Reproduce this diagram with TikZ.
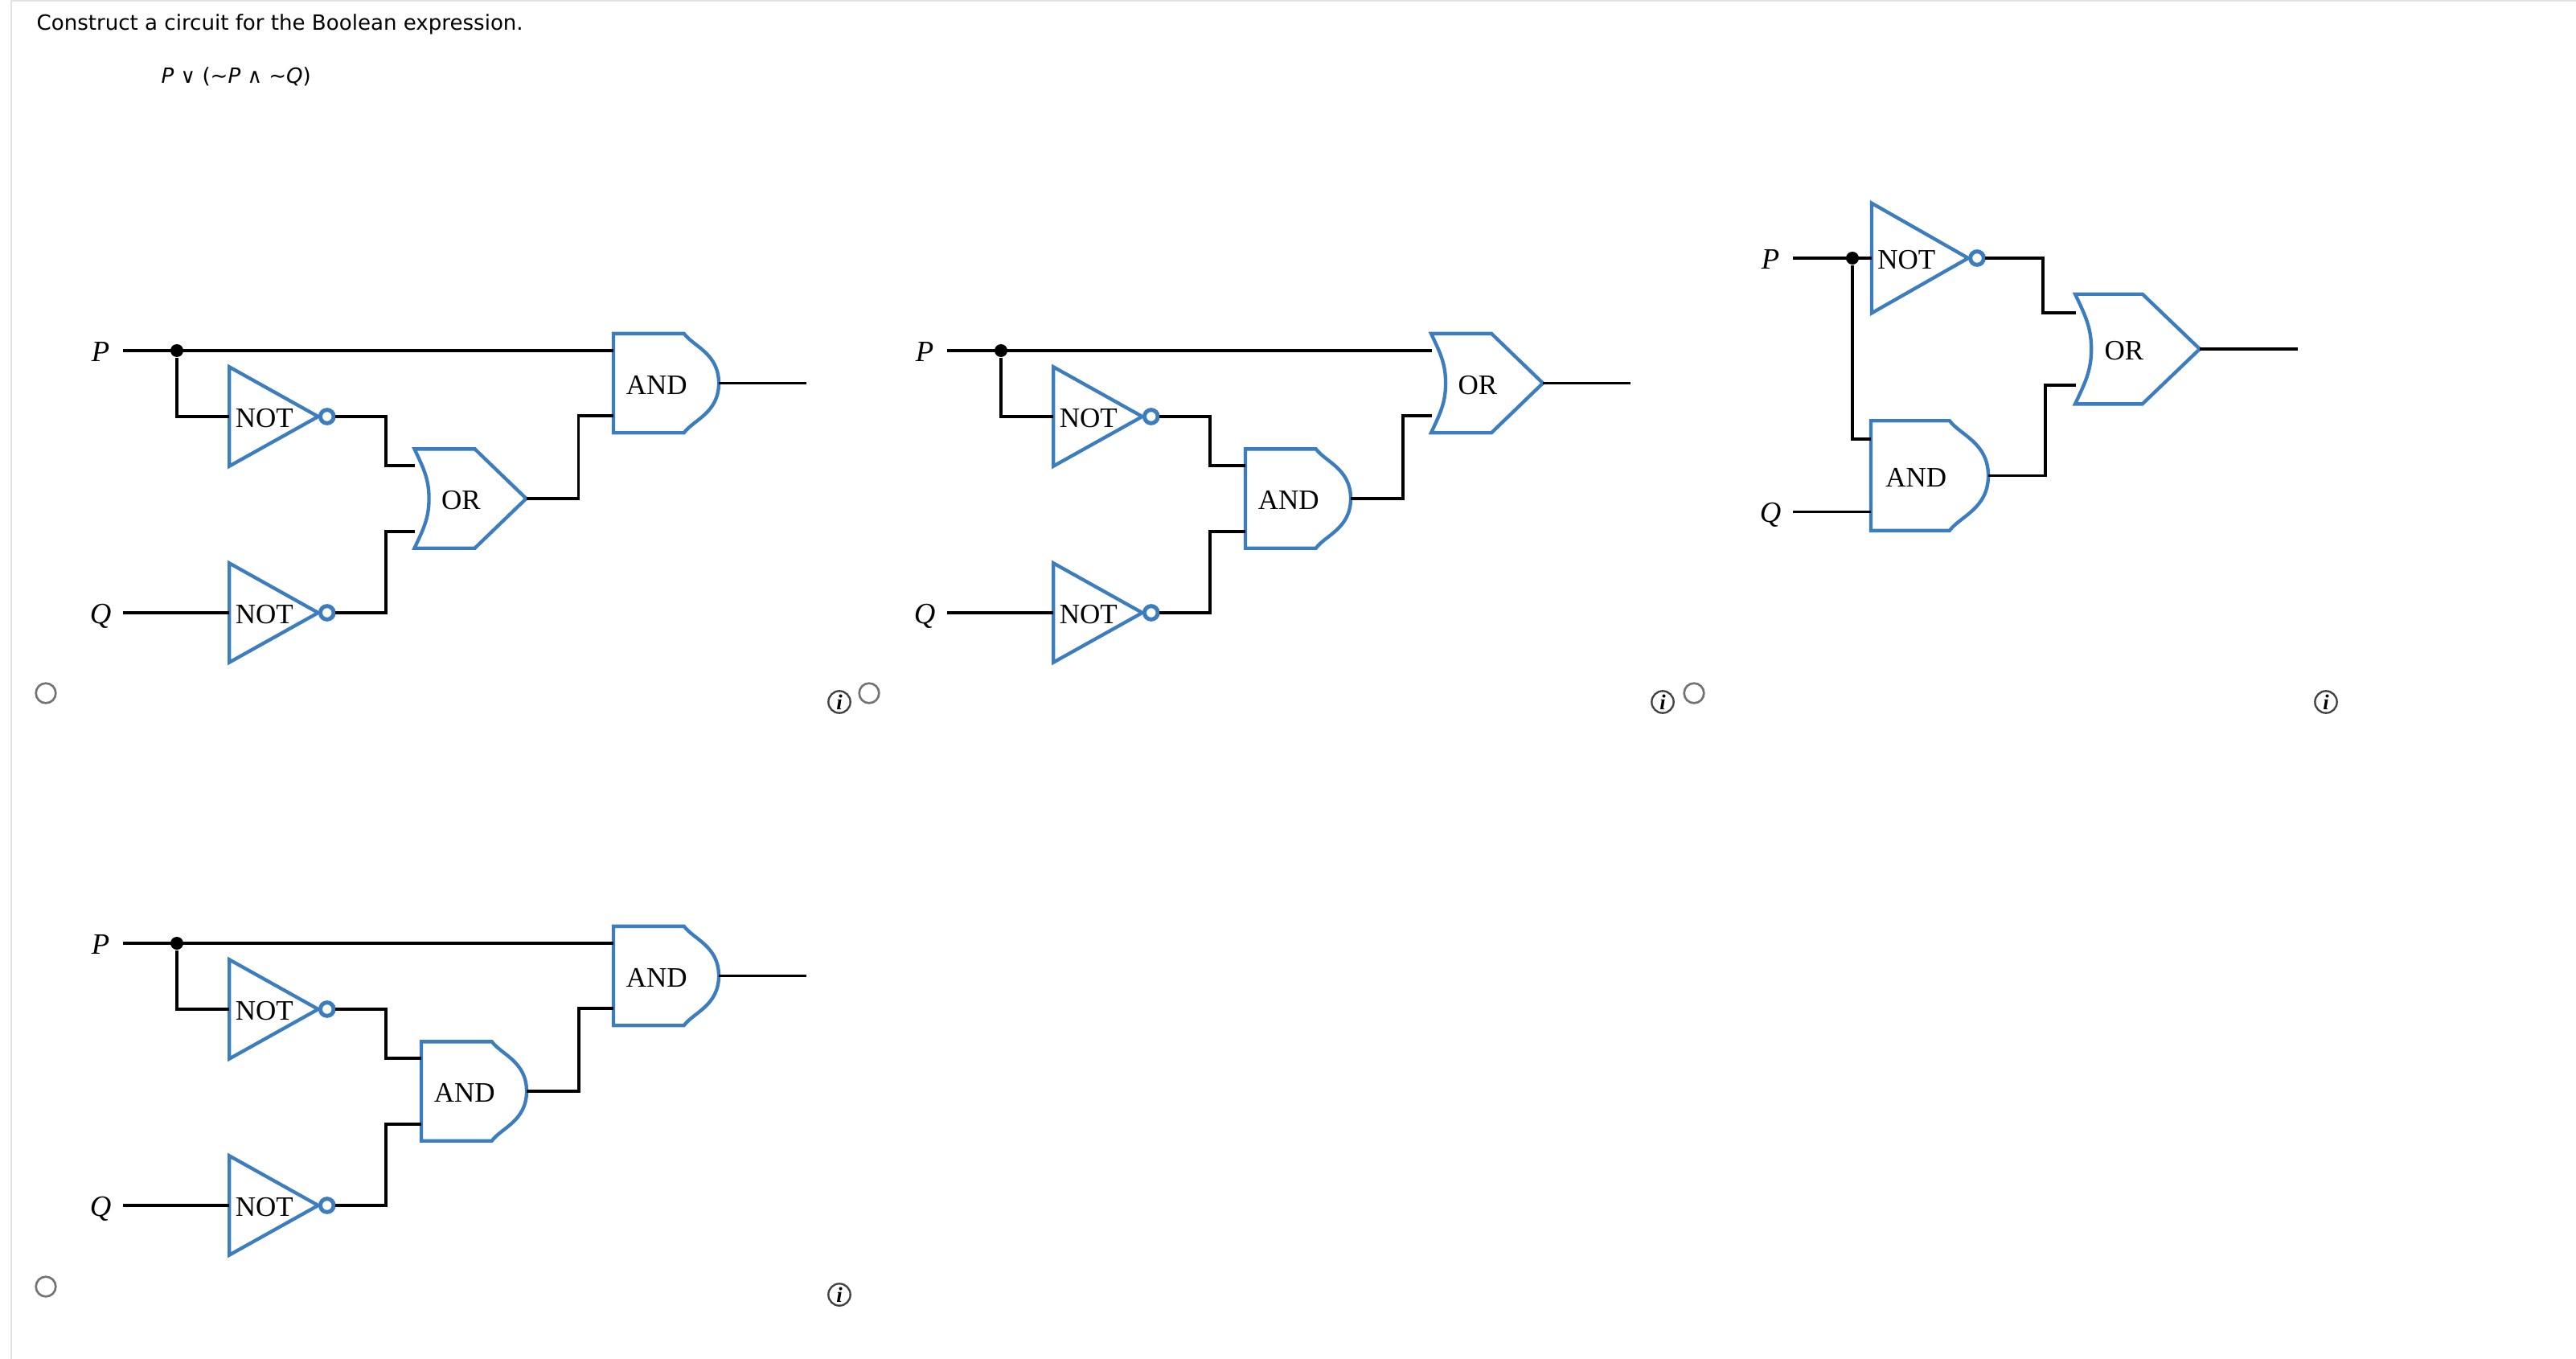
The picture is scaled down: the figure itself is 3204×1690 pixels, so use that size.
\documentclass[tikz,border=0pt]{standalone}
\usepackage{fontspec}
\setmainfont{Liberation Serif}
\newfontfamily\uifont{DejaVu Sans}
\usetikzlibrary{calc,positioning}

\definecolor{gateblue}{HTML}{3B7DBF}
\definecolor{framegray}{HTML}{E2E2E2}
\newcommand{\opsym}[1]{{\fontsize{7.6pt}{7.6pt}\selectfont #1}}

\tikzset{
  wire/.style={line width=1.15pt,black},
  gateline/.style={line width=1.3pt,draw=gateblue,line join=miter},
  gatebox/.style={rectangle,inner sep=0pt,outer sep=0pt,text height=8.2pt,text depth=0pt,
    font=\fontsize{10.5pt}{10.5pt}\selectfont},
  std/.style={minimum width=#1*0.3pt,minimum height=37pt,execute at end node=\kern7pt},
  big/.style={minimum width=#1*0.3pt,minimum height=41pt,execute at end node=\kern10pt},
  notgate/.style={gatebox,append after command={\pgfextra{\let\LN\tikzlastnode
    \draw[gateline] (\LN.north west) -- (\LN.east) -- (\LN.south west) -- cycle;
    \draw[gateline,line width=1.5pt,fill=white] ($(\LN.east)+(11,0)$) circle (2.5pt);
    \coordinate (\LN-o) at ($(\LN.east)+(21,0)$);}}},
  andgate/.style={gatebox,append after command={\pgfextra{\let\LN\tikzlastnode
    \draw[gateline] (\LN.north west)
      -- ($(\LN.north west)!.67!(\LN.north east)$)
      .. controls ($(\LN.north west)!.13!(\LN.south west)+.76*(\LN.east)-.76*(\LN.west)$)
      and ($(\LN.north east)!.2!(\LN.south east)$) .. (\LN.east)
      .. controls ($(\LN.north east)!.8!(\LN.south east)$)
      and ($(\LN.north west)!.87!(\LN.south west)+.76*(\LN.east)-.76*(\LN.west)$)
      .. ($(\LN.south west)!.67!(\LN.south east)$)
      -- (\LN.south west) -- cycle;
    \coordinate (\LN-a) at ($(\LN.north west)!.17!(\LN.south west)$);
    \coordinate (\LN-b) at ($(\LN.north west)!.83!(\LN.south west)$);}}},
  orgate/.style={gatebox,append after command={\pgfextra{\let\LN\tikzlastnode
    \draw[gateline] (\LN.north west)
      -- ($(\LN.north west)!.54!(\LN.north east)$) -- (\LN.east)
      -- ($(\LN.south west)!.54!(\LN.south east)$)
      -- (\LN.south west) to[out=65,in=-90] ($(\LN.west)!.13!(\LN.east)$)
      to[out=90,in=-65] (\LN.north west) -- cycle;
    \coordinate (\LN-a) at ($(\LN.north west)!.17!(\LN.south west)+(.075*\pgfkeysvalueof{/pgf/minimum width}/.3pt,0)$);
    \coordinate (\LN-b) at ($(\LN.north west)!.83!(\LN.south west)+(.075*\pgfkeysvalueof{/pgf/minimum width}/.3pt,0)$);}}},
  andstd/.style={andgate,std=131},
  orstd/.style={orgate,std=139},
  signal/.style={rectangle,inner sep=0pt,outer sep=0pt,minimum width=16.8pt,text height=8pt,text depth=0pt,
    font=\fontsize{11pt}{11pt}\selectfont\itshape},
  junction/.style={circle,fill=black,inner sep=0pt,minimum size=4.8pt},
  radio/.style={circle,draw=black!55,line width=.8pt,inner sep=0pt,minimum size=7.4pt},
  info/.style={circle,draw=black!75,line width=.7pt,inner sep=0pt,minimum size=8.2pt,
    font=\fontsize{8pt}{8pt}\selectfont\bfseries\itshape},
  prompt/.style={anchor=west,inner sep=0pt,font=\uifont\fontsize{7.82pt}{8pt}\selectfont}
}

\begin{document}
\begin{tikzpicture}[x=0.3pt,y=-0.3pt]
  \useasboundingbox (0,0) rectangle (3204,1690);

  % page frame
  \draw[framegray,line width=.8pt] (14,1690) -- (14,1) -- (3204,1);

  \node[prompt] (title) at (45,30) {Construct a circuit for the Boolean expression.};
  \node[prompt] (expr) at (200,95)
    {\textit{P} \opsym{∨} (\textit{\char`\~P} \opsym{∧} \textit{\char`\~Q})};

  % the three circuits with two inverters
  \foreach \ckt/\dx/\dy/\midgate/\midx/\midlab/\lastgate/\lastx/\lastlab in
    {a/0/0/orstd/585/OR/andstd/828.5/AND,
     b/1025/0/andstd/589.5/AND/orstd/824.5/OR,
     d/0/737/andstd/589.5/AND/andstd/828.5/AND} {
    \begin{scope}[shift={(\dx,\dy)}]
      \node[signal] (p\ckt) at (125,436) {P};
      \node[signal] (q\ckt) at (125,762) {Q};
      \node[junction] (j\ckt) at (220,436) {};
      \node[notgate,std=110.5] (np\ckt) at (340.5,518) {NOT};
      \node[notgate,std=110.5] (nq\ckt) at (340.5,762) {NOT};
      \node[\midgate] (mid\ckt) at (\midx,620) {\midlab};
      \node[\lastgate] (last\ckt) at (\lastx,476.5) {\lastlab};
      \coordinate (out\ckt) at (1003,476.5);

      \draw[wire] (p\ckt.east) -- (last\ckt-a |- p\ckt.east);
      \draw[wire] (j\ckt) |- (np\ckt.west);
      \draw[wire] (q\ckt.east) -- (nq\ckt.west);
      \draw[wire] (np\ckt-o) -- ++(63.5,0) |- (mid\ckt-a);
      \draw[wire] (nq\ckt-o) -- ++(63.5,0) |- (mid\ckt-b);
      \draw[wire] (mid\ckt.east) -- ++(65,0) |- (last\ckt-b);
      \draw[wire] (last\ckt.east) -- (out\ckt);
    \end{scope}
  }

  % the third circuit
  \node[signal] (pc) at (2202,321) {P};
  \node[signal] (qc) at (2202,636.5) {Q};
  \node[junction] (jc) at (2304,321) {};
  \node[notgate,big=120] (nc) at (2388,321) {NOT};
  \node[andgate,big=146] (ac) at (2400,591.5) {AND};
  \node[orgate,big=155] (oc) at (2658.5,434) {OR};
  \coordinate (outc) at (2858,434);

  \draw[wire] (pc.east) -- (nc.west);
  \draw[wire] (jc) |- (ac-a);
  \draw[wire] (qc.east) -- (qc.east -| ac-b);
  \draw[wire] (nc-o) -- ++(72,0) |- (oc-a);
  \draw[wire] (ac.east) -- ++(71,0) |- (oc-b);
  \draw[wire] (oc.east) -- (outc);

  % answer marks
  \foreach \n/\x/\y in {1/57/862,2/1081/862,3/2107/862,4/57/1600}
    \node[radio] (radio\n) at (\x,\y) {};
  \foreach \n/\x/\y in {1/1044/873,2/2068/873,3/2893/873,4/1044/1610}
    \node[info] (info\n) at (\x,\y) {i};
\end{tikzpicture}
\end{document}
